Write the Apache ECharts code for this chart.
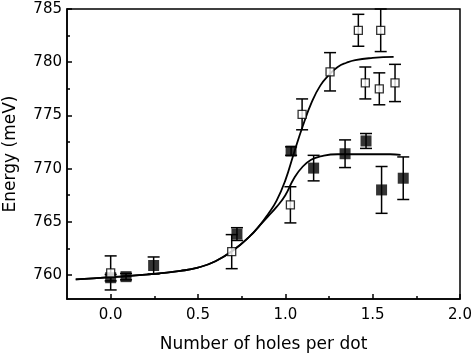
<!DOCTYPE html>
<html>
<head>
<meta charset="utf-8">
<script src="https://cdn.jsdelivr.net/npm/echarts@6/dist/echarts.min.js"></script>
<style>html,body{margin:0;padding:0;background:#fff}#c{width:474px;height:356px}</style>
</head>
<body>
<div id="c"></div>
<script>
// Filled squares
var filledX   = [0.0, 0.088, 0.246, 0.723, 1.033, 1.162, 1.342, 1.462, 1.551, 1.675];
var filledY   = [759.75, 759.85, 760.9, 763.85, 771.65, 770.05, 771.4, 772.6, 768.0, 769.1];
var filledErr = [0.3, 0.3, 0.8, 0.6, 0.4, 1.2, 1.3, 0.7, 2.2, 2.0];
// Open squares
var openX   = [0.0, 0.693, 1.029, 1.096, 1.256, 1.418, 1.546, 1.458, 1.538, 1.628];
var openY   = [760.2, 762.2, 766.6, 775.1, 779.1, 783.0, 783.0, 778.05, 777.5, 778.05];
var openErr = [1.6, 1.6, 1.7, 1.45, 1.8, 1.5, 2.0, 1.5, 1.5, 1.75];
// Fit curve for filled squares
var fitLowX = [-0.2, 0.0, 0.2, 0.4, 0.5, 0.6, 0.7, 0.8, 0.85, 0.9, 0.95, 1.0, 1.05, 1.1, 1.15, 1.2, 1.3, 1.4, 1.5, 1.6, 1.66];
var fitLowY = [759.6, 759.8, 760.05, 760.4, 760.7, 761.3, 762.3, 763.7, 764.6, 765.5, 766.4, 767.5, 769.1, 770.2, 770.85, 771.15, 771.35, 771.35, 771.35, 771.35, 771.3];
// Fit curve for open squares
var fitUpX = [-0.2, 0.0, 0.2, 0.4, 0.5, 0.6, 0.7, 0.8, 0.85, 0.9, 0.95, 1.0, 1.05, 1.1, 1.15, 1.2, 1.25, 1.3, 1.35, 1.4, 1.5, 1.62];
var fitUpY = [759.6, 759.8, 760.05, 760.4, 760.7, 761.3, 762.3, 763.7, 764.6, 765.7, 767.0, 768.9, 771.5, 774.0, 776.2, 777.8, 778.8, 779.55, 779.95, 780.2, 780.4, 780.5];
// Tick labels
var xMajor = [0.0, 0.5, 1.0, 1.5, 2.0];
var xMinor = [0.25, 0.75, 1.25, 1.75];
var yMajor = [760, 765, 770, 775, 780, 785];
var yMinor = [762.5, 767.5, 772.5, 777.5, 782.5];

function zip(a, b) { return a.map(function (v, i) { return [v, b[i]]; }); }
function zip3(a, b, c) { return a.map(function (v, i) { return [v, b[i], c[i]]; }); }

function errRender(params, api) {
  var x = api.value(0), y = api.value(1), e = api.value(2);
  var top = api.coord([x, y + e]);
  var bot = api.coord([x, y - e]);
  var hw = 6;
  var st = { stroke: '#000', lineWidth: 1.5 };
  return {
    type: 'group',
    children: [
      { type: 'line', shape: { x1: top[0], y1: top[1], x2: bot[0], y2: bot[1] }, style: st },
      { type: 'line', shape: { x1: top[0] - hw, y1: top[1], x2: top[0] + hw, y2: top[1] }, style: st },
      { type: 'line', shape: { x1: bot[0] - hw, y1: bot[1], x2: bot[0] + hw, y2: bot[1] }, style: st }
    ]
  };
}

var font = 'DejaVu Sans, Liberation Sans, Arial, sans-serif';
var chart = echarts.init(document.getElementById('c'), null, { renderer: 'canvas' });
chart.setOption({
  animation: false,
  backgroundColor: '#fff',
  grid: { left: 67, right: 14, top: 9, bottom: 57, containLabel: false, outerBoundsMode: 'none',
    show: true, borderColor: '#000', borderWidth: 1.5, backgroundColor: 'transparent' },
  xAxis: [{
    type: 'value', min: -0.25, max: 2.0,
    name: 'Number of holes per dot', nameLocation: 'middle', nameGap: 37,
    nameTextStyle: { fontFamily: font, fontSize: 17, color: '#000' },
    axisLine: { show: true, onZero: false, lineStyle: { color: '#000', width: 1.5 } },
    axisTick: { show: true, inside: true, length: 5, customValues: xMajor, lineStyle: { color: '#000', width: 1.5 } },
    axisLabel: { show: true, margin: 9, customValues: xMajor, fontFamily: font, fontSize: 15, color: '#000',
      formatter: function (v) { return v.toFixed(1); } },
    splitLine: { show: false }
  }, {
    type: 'value', min: -0.25, max: 2.0, position: 'bottom',
    axisLine: { show: false, onZero: false },
    axisTick: { show: true, inside: true, length: 3, customValues: xMinor, lineStyle: { color: '#000', width: 1.5 } },
    axisLabel: { show: false },
    splitLine: { show: false }
  }],
  yAxis: [{
    type: 'value', min: 757.75, max: 785,
    name: 'Energy (meV)', nameLocation: 'middle', nameGap: 48,
    nameTextStyle: { fontFamily: font, fontSize: 17, color: '#000' },
    axisLine: { show: true, onZero: false, lineStyle: { color: '#000', width: 1.5 } },
    axisTick: { show: true, inside: true, length: 5, customValues: yMajor, lineStyle: { color: '#000', width: 1.5 } },
    axisLabel: { show: true, margin: 5, customValues: yMajor, fontFamily: font, fontSize: 15, color: '#000' },
    splitLine: { show: false }
  }, {
    type: 'value', min: 757.75, max: 785, position: 'left',
    axisLine: { show: false, onZero: false },
    axisTick: { show: true, inside: true, length: 3, customValues: yMinor, lineStyle: { color: '#000', width: 1.5 } },
    axisLabel: { show: false },
    splitLine: { show: false }
  }],
  series: [
    { type: 'line', data: zip(fitLowX, fitLowY), smooth: true, showSymbol: false, symbol: 'none',
      lineStyle: { color: '#000', width: 1.8 }, z: 2 },
    { type: 'line', data: zip(fitUpX, fitUpY), smooth: true, showSymbol: false, symbol: 'none',
      lineStyle: { color: '#000', width: 1.8 }, z: 2 },
    { type: 'custom', renderItem: errRender, data: zip3(filledX, filledY, filledErr), z: 3 },
    { type: 'scatter', data: zip(filledX, filledY), symbol: 'rect', symbolSize: 11,
      itemStyle: { color: '#000', borderColor: '#000', borderWidth: 0 }, z: 4 },
    { type: 'custom', renderItem: errRender, data: zip3(openX, openY, openErr), z: 5 },
    { type: 'scatter', data: zip(openX, openY), symbol: 'rect', symbolSize: 8,
      itemStyle: { color: '#fff', borderColor: '#000', borderWidth: 1.3 }, z: 6 }
  ]
});
</script>
</body>
</html>
